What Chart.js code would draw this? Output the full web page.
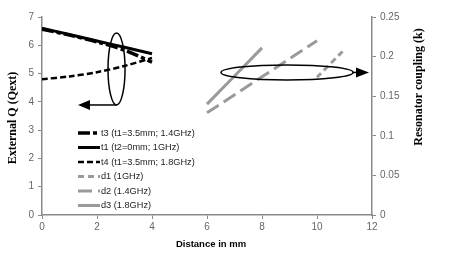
<!DOCTYPE html>
<html>
<head>
<meta charset="utf-8">
<script src="https://cdn.jsdelivr.net/npm/chart.js@4.4.0/dist/chart.umd.min.js"></script>
<style>
  html, body { margin: 0; padding: 0; background: #fff; }
  #wrap { width: 474px; height: 264px; }
</style>
</head>
<body>
<div id="wrap"><canvas id="grafico" width="474" height="264"></canvas></div>
<script>
// datos
const distT = [0, 1, 2, 3, 4];
const t3 = [6.57, 6.36, 6.12, 5.83, 5.4];
const t1 = [6.6, 6.38, 6.15, 5.93, 5.7];
const t4 = [4.8, 4.9, 5.05, 5.27, 5.55];
const distD1 = [10, 11];
const d1 = [0.174, 0.209];
const distD2 = [6, 10];
const d2 = [0.129, 0.22];
const distD3 = [6, 8];
const d3 = [0.14, 0.211];
const etiquetas = ["t3 (t1=3.5mm; 1.4GHz)", "t1 (t2=0mm; 1GHz)", "t4 (t1=3.5mm; 1.8GHz)", "d1 (1GHz)", "d2 (1.4GHz)", "d3 (1.8GHz)"];

const puntos = (xs, ys) => xs.map((x, i) => ({ x: x, y: ys[i] }));
const gris = "#9a9a9a";
const serie = (label, xs, ys, color, dash, eje, ancho) => ({
    label: label,
    data: puntos(xs, ys),
    borderColor: color,
    borderWidth: ancho,
    borderDash: dash,
    pointRadius: 0,
    fill: false,
    tension: 0.3,
    yAxisID: eje
});

const datasets = [
    serie(etiquetas[0], distT, t3, "#000", [12, 3, 4, 3], "y", 3.5),
    serie(etiquetas[1], distT, t1, "#000", [], "y", 3),
    serie(etiquetas[2], distT, t4, "#000", [6, 3], "y", 2.5),
    serie(etiquetas[3], distD1, d1, gris, [6, 4], "y2", 3),
    serie(etiquetas[4], distD2, d2, gris, [14, 6], "y2", 3),
    serie(etiquetas[5], distD3, d3, gris, [], "y2", 3)
];

// leyenda, titulos y elipses dibujados a mano
const extras = {
    id: "extras",
    afterDraw(chart) {
        const c = chart.ctx;
        const a = chart.chartArea;
        const sx = chart.scales.x, sy = chart.scales.y, sy2 = chart.scales.y2;
        c.save();
        // leyenda
        c.font = "9.2px 'Liberation Sans', Arial, sans-serif";
        c.textBaseline = "middle";
        datasets.forEach((ds, i) => {
            const yy = 133 + i * 14.5;
            c.strokeStyle = ds.borderColor;
            c.lineWidth = ds.borderWidth;
            c.setLineDash(ds.borderDash);
            c.beginPath();
            c.moveTo(78, yy);
            c.lineTo(100, yy);
            c.stroke();
            c.setLineDash([]);
            c.fillStyle = "#222";
            c.fillText(ds.label, 101, yy);
        });
        // elipse izquierda + flecha
        c.strokeStyle = "#000";
        c.fillStyle = "#000";
        c.lineWidth = 1.5;
        const cx1 = sx.getPixelForValue(2.71), cy1 = sy.getPixelForValue(5.16);
        const rx1 = sx.getPixelForValue(2.71 + 0.31) - cx1, ry1 = cy1 - sy.getPixelForValue(5.16 + 1.27);
        c.beginPath();
        c.ellipse(cx1, cy1, rx1, ry1, 0, 0, Math.PI * 2);
        c.stroke();
        const ay = cy1 + ry1, ax = sx.getPixelForValue(1.31);
        c.beginPath();
        c.moveTo(cx1, ay);
        c.lineTo(ax + 8, ay);
        c.stroke();
        c.beginPath();
        c.moveTo(ax, ay);
        c.lineTo(ax + 12, ay - 5);
        c.lineTo(ax + 12, ay + 5);
        c.closePath();
        c.fill();
        // elipse derecha + flecha
        const cx2 = sx.getPixelForValue(8.91), cy2 = sy2.getPixelForValue(0.18);
        const rx2 = sx.getPixelForValue(8.91 + 2.4) - cx2, ry2 = cy2 - sy2.getPixelForValue(0.18 + 0.0095);
        c.beginPath();
        c.ellipse(cx2, cy2, rx2, ry2, 0, 0, Math.PI * 2);
        c.stroke();
        const bx = sx.getPixelForValue(11.89);
        c.beginPath();
        c.moveTo(cx2 + rx2, cy2);
        c.lineTo(bx - 8, cy2);
        c.stroke();
        c.beginPath();
        c.moveTo(bx, cy2);
        c.lineTo(bx - 13, cy2 - 5);
        c.lineTo(bx - 13, cy2 + 5);
        c.closePath();
        c.fill();
        // titulos de ejes
        c.fillStyle = "#000";
        c.textAlign = "center";
        c.font = "bold 12px 'Liberation Serif', 'Times New Roman', serif";
        c.save();
        c.translate(13, 118);
        c.rotate(-Math.PI / 2);
        c.fillText("External Q (Qext)", 0, 0);
        c.restore();
        c.save();
        c.translate(419, 87);
        c.rotate(-Math.PI / 2);
        c.fillText("Resonator coupling (k)", 0, 0);
        c.restore();
        c.font = "bold 9.5px 'Liberation Sans', Arial, sans-serif";
        c.fillText("Distance in mm", 211, 244);
        c.restore();
    }
};

const fuenteTicks = { family: "'Liberation Sans', Arial, sans-serif", size: 10 };
const ejeGris = "#8a8a8a";

new Chart(document.getElementById("grafico").getContext("2d"), {
    type: "line",
    data: { datasets: datasets },
    options: {
        responsive: false,
        animation: false,
        layout: { padding: { top: 17, right: 0, left: 0, bottom: 0 } },
        plugins: { legend: { display: false }, tooltip: { enabled: false } },
        scales: {
            x: {
                type: "linear",
                min: 0, max: 12,
                ticks: { stepSize: 2, color: "#666", font: fuenteTicks, padding: 2 },
                grid: { drawOnChartArea: false, color: ejeGris, tickLength: 4 },
                border: { color: ejeGris, width: 1.5 },
                afterFit: s => { s.height = 49; }
            },
            y: {
                position: "left",
                min: 0, max: 7,
                ticks: { stepSize: 1, color: "#666", font: fuenteTicks, padding: 4 },
                grid: { drawOnChartArea: false, color: ejeGris, tickLength: 4 },
                border: { color: ejeGris, width: 1.5 },
                afterFit: s => { s.width = 42; }
            },
            y2: {
                position: "right",
                min: 0, max: 0.25,
                ticks: { stepSize: 0.05, color: "#666", font: fuenteTicks, padding: 4,
                    callback: v => +v.toFixed(2) },
                grid: { drawOnChartArea: false, color: ejeGris, tickLength: 4 },
                border: { color: ejeGris, width: 1.5 },
                afterFit: s => { s.width = 102; }
            }
        }
    },
    plugins: [extras]
});
</script>
</body>
</html>
